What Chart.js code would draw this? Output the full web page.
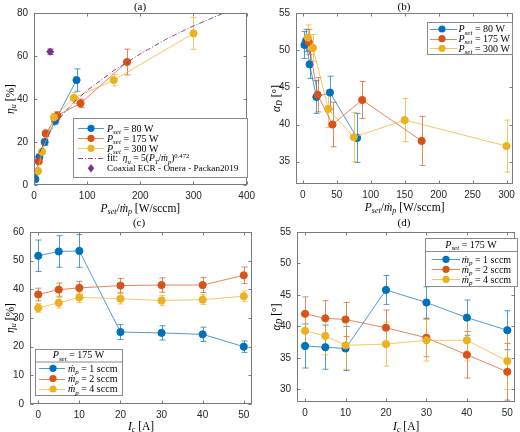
<!DOCTYPE html>
<html>
<head>
<meta charset="utf-8">
<script src="https://cdn.jsdelivr.net/npm/chart.js@4"></script>
<style>
  body { margin: 0; background: #fff; }
  #wrap { position: relative; width: 520px; height: 432px; }
  canvas { position: absolute; }
</style>
</head>
<body>
<div id="wrap">
  <canvas id="ca" width="260" height="216" style="left:0;top:0"></canvas>
  <canvas id="cb" width="260" height="216" style="left:260px;top:0"></canvas>
  <canvas id="cc" width="260" height="216" style="left:0;top:216px"></canvas>
  <canvas id="cd" width="260" height="216" style="left:260px;top:216px"></canvas>
</div>
<script>
// ---- data ----
// P_set / mdot_p [W/sccm] for each power level
const x80 = [2.5, 5, 10, 20, 40, 80];
const x175 = [8.75, 21.9, 43.75, 87.5, 175];
const x300 = [7.5, 15, 37.5, 75, 150, 300];

// (a) utilization efficiency [%]
const etaA80 = [2.7, 6.2, 13, 20, 30, 48.8];
const etaA80Err = [0.6, 0.8, 1.2, 1.5, 1.8, 5.2];
const etaA175 = [11, 24, 32.3, 38, 57.2];
const etaA175Err = [1, 1.5, 1.8, 2, 6];
const etaA300 = [6.5, 15.5, 31.5, 40.5, 48.8, 70.5];
const etaA300Err = [0.6, 1.2, 1.8, 2.5, 2.7, 7.4];
// fit curve samples and reference point
const fitX = [5, 10, 20, 40, 60, 80, 100, 150, 200, 250, 300, 360];
const fitY = [10.7, 14.8, 20.5, 28.5, 34.6, 39.6, 44, 53.2, 61, 68, 74, 80.3];
const ecrX = [30.5];
const ecrY = [62];
const ecrErr = [1.2];

// (b) divergence angle [deg]
const alphaB80 = [50.7, 51.3, 48.1, 43.7, 44.3, 38.2];
const alphaB80Err = [1.8, 1.5, 1.9, 2.2, 2.2, 3.3];
const alphaB175 = [51.1, 44, 40, 43.3, 37.8];
const alphaB175Err = [1.7, 2.3, 3, 2.5, 3.3];
const alphaB300 = [51.7, 50.3, 42.1, 38.3, 40.6, 37.1];
const alphaB300Err = [1.7, 1.8, 2.5, 3.3, 2.9, 3.5];

// coil current I_c [A] at P_set = 175 W
const coilI = [0, 5, 10, 20, 30, 40, 50];
// (c) eta_u [%]
const etaC1 = [51.7, 53.2, 53.4, 25.1, 24.8, 24.3, 20];
const etaC1Err = [5.5, 5.5, 5.7, 2.6, 2.5, 2.5, 2];
const etaC2 = [38.2, 39.9, 40.5, 41.3, 41.5, 41.5, 44.9];
const etaC2Err = [2.2, 2.3, 2.3, 2.5, 2.5, 2.6, 2.9];
const etaC4 = [33.5, 35.3, 37.2, 36.7, 36.1, 36.4, 37.6];
const etaC4Err = [1.5, 1.8, 1.8, 1.8, 1.7, 1.7, 1.9];
// (d) alpha_D [deg]
const alphaD1 = [36.9, 36.7, 36.5, 45.8, 43.8, 41.4, 39.4];
const alphaD1Err = [3.5, 3.5, 3.5, 2.3, 2.5, 2.8, 3.1];
const alphaD2 = [42, 41.3, 41.1, 39.8, 38.2, 35.5, 32.8];
const alphaD2Err = [2.7, 2.8, 2.7, 2.8, 3, 3.7, 4.5];
const alphaD4 = [39.3, 38.5, 37, 37.2, 37.8, 37.8, 34.5];
const alphaD4Err = [3, 3, 3.8, 3.5, 3.3, 3.3, 4.5];

// tick values
const ticksAx = [0, 100, 200, 300, 400];
const ticksAy = [0, 20, 40, 60, 80];
const ticksBx = [0, 50, 100, 150, 200, 250, 300];
const ticksBy = [35, 40, 45, 50, 55];
const ticksCx = [0, 10, 20, 30, 40, 50];
const ticksCy = [0, 10, 20, 30, 40, 50, 60];
const ticksDy = [30, 35, 40, 45, 50, 55];

// ---- styling ----
const BLUE = '#0072BD', RED = '#D95319', YEL = '#EDB120', PURP = '#7E2F8E';
const FADE = { [BLUE]: 'rgba(0,114,189,0.7)', [RED]: 'rgba(217,83,25,0.7)', [YEL]: 'rgba(237,177,32,0.7)', [PURP]: 'rgba(126,47,142,0.9)' };
const SANS = "'Liberation Sans', Arial, sans-serif";
const SERIF = "'Liberation Serif', 'DejaVu Serif', serif";

Chart.defaults.animation = false;

function series(xs, ys, err, color, order) {
  return {
    data: xs.map((x, i) => ({ x: x, y: ys[i] })),
    err: err,
    showLine: true,
    borderColor: FADE[color],
    borderWidth: 1,
    backgroundColor: color,
    pointBackgroundColor: color,
    pointBorderColor: color,
    pointRadius: 3.6,
    pointHoverRadius: 3.6,
    order: order
  };
}

function axis(min, max, ticks, size, isX) {
  return {
    type: 'linear', min: min, max: max,
    afterBuildTicks: s => { s.ticks = ticks.map(v => ({ value: v })); },
    afterFit: s => { if (isX) s.height = size; else s.width = size; },
    grid: { display: false, drawTicks: false },
    border: { display: false },
    ticks: { font: { family: SANS, size: 10 }, color: '#262626', padding: isX ? 5 : 6, maxRotation: 0, autoSkip: false }
  };
}

// rich text: segments [text, flags]; i = italic, s = subscript, S = superscript
function segFont(f, size) {
  const sz = (f.includes('s') || f.includes('S')) ? size * 0.7 : size;
  return (f.includes('i') ? 'italic ' : '') + sz + 'px ' + SERIF;
}
function richWidth(ctx, segs, size) {
  let w = 0;
  segs.forEach(([t, f]) => { ctx.font = segFont(f, size); w += ctx.measureText(t).width; });
  return w;
}
function drawRich(ctx, segs, x, y, size, align) {
  const w = richWidth(ctx, segs, size);
  let cx = align === 'center' ? x - w / 2 : x;
  const base = y + size * 0.33;
  ctx.textAlign = 'left';
  ctx.textBaseline = 'alphabetic';
  ctx.fillStyle = '#000';
  segs.forEach(([t, f]) => {
    ctx.font = segFont(f, size);
    let dy = 0;
    if (f.includes('s')) dy = size * 0.22;
    if (f.includes('S')) dy = -size * 0.38;
    ctx.fillText(t, cx, base + dy);
    cx += ctx.measureText(t).width;
  });
}

function dot(ctx, x, y, color, style) {
  ctx.fillStyle = color;
  ctx.beginPath();
  if (style === 'diamond') {
    ctx.moveTo(x, y - 4.2); ctx.lineTo(x + 3.2, y); ctx.lineTo(x, y + 4.2); ctx.lineTo(x - 3.2, y); ctx.closePath();
  } else {
    ctx.arc(x, y, 3.6, 0, Math.PI * 2);
  }
  ctx.fill();
}

const framePlugin = {
  id: 'frame',
  beforeDatasetsDraw(chart) {
    const ctx = chart.ctx, xs = chart.scales.x, ys = chart.scales.y, a = chart.chartArea;
    ctx.save();
    ctx.beginPath(); ctx.rect(a.left, a.top, a.right - a.left, a.bottom - a.top); ctx.clip();
    chart.data.datasets.forEach(ds => {
      if (!ds.err) return;
      ctx.strokeStyle = ds.borderColor;
      ctx.lineWidth = 1;
      ds.data.forEach((p, j) => {
        const px = Math.round(xs.getPixelForValue(p.x)) + 0.5;
        const y1 = ys.getPixelForValue(p.y + ds.err[j]);
        const y2 = ys.getPixelForValue(p.y - ds.err[j]);
        ctx.beginPath();
        ctx.moveTo(px, y1); ctx.lineTo(px, y2);
        ctx.moveTo(px - 3, y1); ctx.lineTo(px + 3, y1);
        ctx.moveTo(px - 3, y2); ctx.lineTo(px + 3, y2);
        ctx.stroke();
      });
    });
    ctx.restore();
  },
  afterDraw(chart, args, o) {
    const ctx = chart.ctx, xs = chart.scales.x, ys = chart.scales.y, a = chart.chartArea;
    ctx.save();
    // box + inward ticks
    ctx.strokeStyle = '#7a7a7a';
    ctx.lineWidth = 1;
    const L = Math.round(a.left) + 0.5, R = Math.round(a.right) - 0.5, T = Math.round(a.top) + 0.5, B = Math.round(a.bottom) - 0.5;
    ctx.strokeRect(L, T, R - L, B - T);
    ctx.beginPath();
    xs.ticks.forEach(t => {
      const px = Math.round(xs.getPixelForValue(t.value)) + 0.5;
      ctx.moveTo(px, B); ctx.lineTo(px, B - 3);
      ctx.moveTo(px, T); ctx.lineTo(px, T + 3);
    });
    ys.ticks.forEach(t => {
      const py = Math.round(ys.getPixelForValue(t.value)) + 0.5;
      ctx.moveTo(L, py); ctx.lineTo(L + 3, py);
      ctx.moveTo(R, py); ctx.lineTo(R - 3, py);
    });
    ctx.stroke();

    // titles
    drawRich(ctx, [[o.title, '']], o.titlePos[0], o.titlePos[1], 11, 'center');
    drawRich(ctx, o.xTitle, (a.left + a.right) / 2, o.xTitleY, 11.5, 'center');
    ctx.save();
    ctx.translate(o.yTitleX, (a.top + a.bottom) / 2);
    ctx.rotate(-Math.PI / 2);
    drawRich(ctx, o.yTitle, 0, 0, 11.5, 'center');
    ctx.restore();

    // legend
    const lg = o.legend;
    ctx.fillStyle = '#fff';
    ctx.fillRect(lg.box[0], lg.box[1], lg.box[2] - lg.box[0], lg.box[3] - lg.box[1]);
    ctx.strokeStyle = '#8a8a8a';
    ctx.strokeRect(lg.box[0] + 0.5, lg.box[1] + 0.5, lg.box[2] - lg.box[0], lg.box[3] - lg.box[1]);
    if (lg.header) {
      drawRich(ctx, lg.header, (lg.box[0] + lg.box[2]) / 2, lg.headerY, 10, 'center');
      ctx.strokeStyle = '#8a8a8a';
      ctx.beginPath();
      ctx.moveTo(lg.box[0], lg.sepY + 0.5); ctx.lineTo(lg.box[2], lg.sepY + 0.5);
      ctx.stroke();
    }
    lg.rows.forEach(r => {
      if (r.kind !== 'marker') {
        ctx.strokeStyle = FADE[r.color];
        ctx.lineWidth = 1;
        ctx.setLineDash(r.kind === 'dashdot' ? [5, 2, 1, 2] : []);
        ctx.beginPath();
        ctx.moveTo(lg.lineX[0], Math.round(r.y) + 0.5); ctx.lineTo(lg.lineX[1], Math.round(r.y) + 0.5);
        ctx.stroke();
        ctx.setLineDash([]);
      }
      if (r.kind === 'line') dot(ctx, lg.markX, r.y, r.color);
      if (r.kind === 'marker') dot(ctx, lg.markX, r.y, r.color, 'diamond');
      drawRich(ctx, r.text, lg.textX, r.y, r.size || 10, 'left');
    });
    ctx.restore();
  }
};

const bg = {
  id: 'bg',
  beforeDraw(chart) { const c = chart.ctx; c.save(); c.fillStyle = '#fff'; c.fillRect(0, 0, chart.width, chart.height); c.restore(); }
};

const Pset = w => [['P', 'i'], ['set', 'is'], [' = ' + w + ' W', '']];
const Mdot = n => [['ṁ', 'i'], ['p', 'is'], [' = ' + n + ' sccm', '']];
const xRatio = [['P', 'i'], ['set', 'is'], ['/', ''], ['ṁ', 'i'], ['p', 'is'], [' [W/sccm]', '']];
const xCoil = [['I', 'i'], ['c', 'is'], [' [A]', '']];
const yEta = [['η', 'i'], ['u', 'is'], [' [%]', '']];
const yAlpha = [['α', 'i'], ['D', 'is'], [' [°]', '']];

function makeChart(id, datasets, scales, pad, frame) {
  return new Chart(document.getElementById(id), {
    type: 'scatter',
    data: { datasets: datasets },
    options: {
      responsive: false,
      devicePixelRatio: 1,
      layout: { padding: pad },
      scales: scales,
      plugins: { legend: { display: false }, tooltip: { enabled: false }, frame: frame }
    },
    plugins: [bg, framePlugin]
  });
}

// (a)
const fitSet = {
  data: fitX.map((x, i) => ({ x: x, y: fitY[i] })),
  showLine: true, borderColor: FADE[PURP], borderWidth: 1, borderDash: [5, 2, 1, 2], pointRadius: 0, order: 0
};
const ecrSet = {
  data: ecrX.map((x, i) => ({ x: x, y: ecrY[i] })),
  err: ecrErr, borderColor: PURP, backgroundColor: PURP, pointStyle: 'rectRot', pointRadius: 3.6, order: 0
};
makeChart('ca', [
  series(x80, etaA80, etaA80Err, BLUE, 3),
  series(x175, etaA175, etaA175Err, RED, 2),
  series(x300, etaA300, etaA300Err, YEL, 1),
  fitSet, ecrSet
], {
  x: axis(0, 400, ticksAx, 31, true),
  y: axis(0, 80, ticksAy, 34, false)
}, { left: 0, right: 8, top: 13, bottom: 0 }, {
  title: '(a)', titlePos: [140, 6], xTitle: xRatio, xTitleY: 208, yTitle: yEta, yTitleX: 10,
  legend: {
    box: [73, 118, 247, 177], lineX: [78, 104], markX: 91, textX: 107,
    rows: [
      { kind: 'line', color: BLUE, y: 128.3, text: Pset(80) },
      { kind: 'line', color: RED, y: 138.3, text: Pset(175) },
      { kind: 'line', color: YEL, y: 148.3, text: Pset(300) },
      { kind: 'dashdot', color: PURP, y: 158.3, size: 9.5, text: [['fit:  ', ''], ['η', 'i'], ['u', 'is'], [' = 5(', ''], ['P', 'i'], ['T', 'is'], ['/', ''], ['ṁ', 'i'], ['p', 'is'], [')', ''], ['0.472', 'S']] },
      { kind: 'marker', color: PURP, y: 168.3, size: 9.2, text: [['Coaxial ECR - Onera - Packan2019', '']] }
    ]
  }
});

// (b)
makeChart('cb', [
  series(x80, alphaB80, alphaB80Err, BLUE, 3),
  series(x175, alphaB175, alphaB175Err, RED, 2),
  series(x300, alphaB300, alphaB300Err, YEL, 1)
], {
  x: axis(-10, 310, ticksBx, 32, true),
  y: axis(32, 55, ticksBy, 36, false)
}, { left: 0, right: 2, top: 13, bottom: 0 }, {
  title: '(b)', titlePos: [144, 6], xTitle: xRatio, xTitleY: 207, yTitle: yAlpha, yTitleX: 16,
  legend: {
    box: [167, 22, 252, 54], lineX: [170, 197], markX: 182, textX: 198.5,
    rows: [
      { kind: 'line', color: BLUE, y: 29, text: Pset(80) },
      { kind: 'line', color: RED, y: 38.7, text: Pset(175) },
      { kind: 'line', color: YEL, y: 48.3, text: Pset(300) }
    ]
  }
});

// (c)
makeChart('cc', [
  series(coilI, etaC1, etaC1Err, BLUE, 3),
  series(coilI, etaC2, etaC2Err, RED, 2),
  series(coilI, etaC4, etaC4Err, YEL, 1)
], {
  x: axis(-2, 52, ticksCx, 28, true),
  y: axis(0, 60, ticksCy, 30, false)
}, { left: 0, right: 8, top: 16, bottom: 0 }, {
  title: '(c)', titlePos: [139, 6], xTitle: xCoil, xTitleY: 210, yTitle: yEta, yTitleX: 10,
  legend: {
    box: [35, 133, 122, 179], header: Pset(175), headerY: 139, sepY: 145.5,
    lineX: [39, 65], markX: 53, textX: 68,
    rows: [
      { kind: 'line', color: BLUE, y: 152.3, text: Mdot(1) },
      { kind: 'line', color: RED, y: 162.5, text: Mdot(2) },
      { kind: 'line', color: YEL, y: 173, text: Mdot(4) }
    ]
  }
});

// (d)
makeChart('cd', [
  series(coilI, alphaD1, alphaD1Err, BLUE, 3),
  series(coilI, alphaD2, alphaD2Err, RED, 2),
  series(coilI, alphaD4, alphaD4Err, YEL, 1)
], {
  x: axis(-2, 52, ticksCx, 30, true),
  y: axis(28, 55, ticksDy, 37, false)
}, { left: 0, right: 2, top: 16, bottom: 0 }, {
  title: '(d)', titlePos: [144, 6], xTitle: xCoil, xTitleY: 210, yTitle: yAlpha, yTitleX: 16,
  legend: {
    box: [165, 22, 257, 70], header: Pset(175), headerY: 28.3, sepY: 35,
    lineX: [171.7, 200], markX: 186, textX: 201.7,
    rows: [
      { kind: 'line', color: BLUE, y: 43.3, text: Mdot(1) },
      { kind: 'line', color: RED, y: 53.3, text: Mdot(2) },
      { kind: 'line', color: YEL, y: 63.3, text: Mdot(4) }
    ]
  }
});
</script>
</body>
</html>
